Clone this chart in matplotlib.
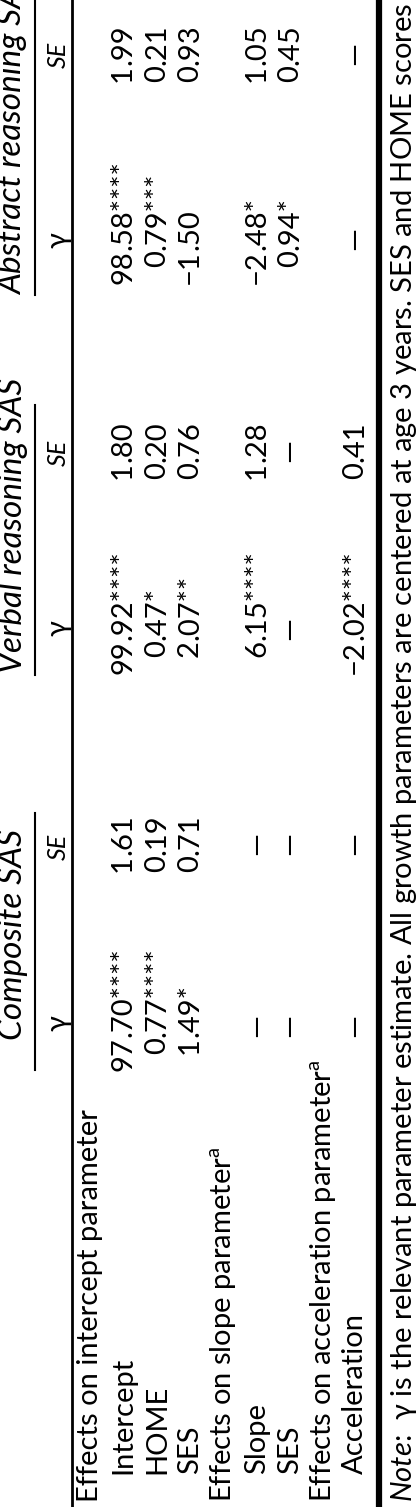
import matplotlib.pyplot as plt

plt.rcParams['font.family'] = ['Lato', 'DejaVu Sans']
plt.rcParams['mathtext.fontset'] = 'custom'
plt.rcParams['mathtext.rm'] = 'Lato'
plt.rcParams['mathtext.it'] = 'Lato:italic'

row_labels = ['Effects on intercept parameter', 'Intercept', 'HOME', 'SES',
              'Effects on slope parameter$^{\\mathrm{a}}$', 'Slope', 'SES',
              'Effects on acceleration parameter$^{\\mathrm{a}}$', 'Acceleration']
row_indent = [False, True, True, True, False, True, True, False, True]

groups = ['Composite SAS', 'Verbal reasoning SAS', 'Abstract reasoning SAS']

# None = em dash, 'skip' = heading row
composite_g = ['skip', 97.70, 0.77, 1.49, 'skip', None, None, 'skip', None]
composite_g_stars = [0, 4, 4, 1, 0, 0, 0, 0, 0]
composite_se = ['skip', 1.61, 0.19, 0.71, 'skip', None, None, 'skip', None]
verbal_g = ['skip', 99.92, 0.47, 2.07, 'skip', 6.15, None, 'skip', -2.02]
verbal_g_stars = [0, 4, 1, 2, 0, 4, 0, 0, 4]
verbal_se = ['skip', 1.80, 0.20, 0.76, 'skip', 1.28, None, 'skip', 0.41]
abstract_g = ['skip', 98.58, 0.79, -1.50, 'skip', -2.48, 0.94, 'skip', None]
abstract_g_stars = [0, 4, 3, 0, 0, 1, 1, 0, 0]
abstract_se = ['skip', 1.99, 0.21, 0.93, 'skip', 1.05, 0.45, 'skip', None]

note = ('$\\it{Note}$:  γ is the relevant parameter estimate. All growth parameters are centered at '
        'age 3 years. SES and HOME scores were centered at the 10th pe')

fig = plt.figure(figsize=(4.19, 15.07), dpi=100)
ax = fig.add_axes([0, 0, 1, 1])
ax.set_xlim(0, 419)
ax.set_ylim(1507, 0)
ax.axis('off')

FS = 21
row_x = [90, 123, 157, 190, 223, 257, 290, 323, 355]


def rtext(x, y, s, ha='left', **kw):
    ax.text(x, y, s, rotation=90, rotation_mode='anchor', ha=ha, va='center',
            fontsize=kw.pop('fontsize', FS), color='black', **kw)


def fmt(v):
    s = '{:.2f}'.format(abs(v))
    return ('\u2212' if v < 0 else '') + s


def column(values, stars, dec_y):
    for i, v in enumerate(values):
        if v == 'skip':
            continue
        if v is None:
            rtext(row_x[i], dec_y - 12, '\u2014', ha='center')
            continue
        whole, frac = fmt(v).split('.')
        rtext(row_x[i], dec_y, whole, ha='right')
        rtext(row_x[i], dec_y, '.' + frac + '*' * stars[i], ha='left')


# group headings, underlines and sub headings
head_start = [1040, 673, 295]
line_span = [(813, 1070), (405, 675), (0, 295)]
gamma_y = [1023, 628, 240]
se_y = [847, 453, 55]
for g, s, (a, b), gy, sy in zip(groups, head_start, line_span, gamma_y, se_y):
    rtext(13, s, g, ha='left', style='italic', fontsize=FS + 3)
    ax.plot([35, 35], [a, b], color='black', lw=1.5)
    rtext(58, gy, 'γ', ha='center')
    rtext(58, sy, 'SE', ha='center', style='italic', fontsize=FS - 3)

ax.plot([72, 72], [0, 1507], color='black', lw=2)
ax.plot([379, 379], [0, 1507], color='black', lw=4.5)

for x, label, ind in zip(row_x, row_labels, row_indent):
    rtext(x, 1474 if ind else 1502, label)

column(composite_g, composite_g_stars, 1037)
column(composite_se, [0] * 9, 855)
column(verbal_g, verbal_g_stars, 640)
column(verbal_se, [0] * 9, 462)
column(abstract_g, abstract_g_stars, 250)
column(abstract_se, [0] * 9, 65)

rtext(404, 1502, note)

fig.savefig('out.png', dpi=100)
